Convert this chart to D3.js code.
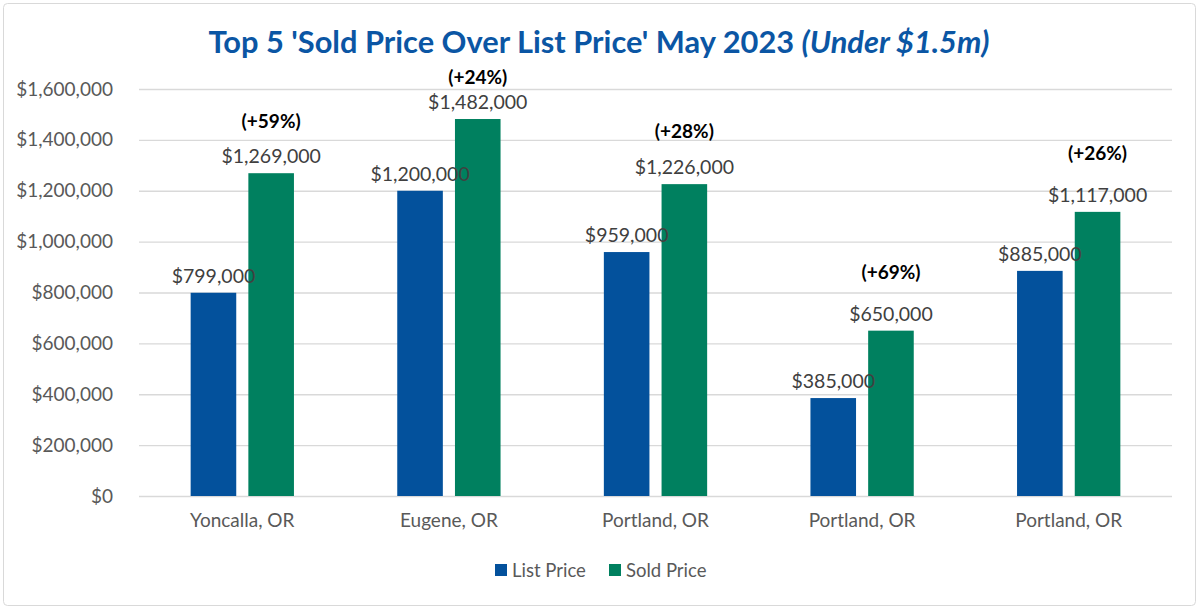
<!DOCTYPE html>
<html>
<head>
<meta charset="utf-8">
<script src="https://cdn.jsdelivr.net/npm/d3@7"></script>
<style>
  body { margin: 0; background: #fff; }
  text { font-family: Lato, "Open Sans", sans-serif; }
</style>
</head>
<body>
<div id="chart-container"></div>
<script>
// data
var categories = ["Yoncalla, OR", "Eugene, OR", "Portland, OR", "Portland, OR", "Portland, OR"];
var listPrice = [799000, 1200000, 959000, 385000, 885000];
var soldPrice = [1269000, 1482000, 1226000, 650000, 1117000];
var pctLabels = ["(+59%)", "(+24%)", "(+28%)", "(+69%)", "(+26%)"];
var yTicks = [0, 200000, 400000, 600000, 800000, 1000000, 1200000, 1400000, 1600000];
var seriesNames = ["List Price", "Sold Price"];

// how far the % boxes sit above the sold bar (they were placed by hand)
var pctLift = [52, 42, 53, 59, 59];

var colors = {"List Price": "#03519c", "Sold Price": "#00805f"};

var w = 1200, h = 611;
var mLeft = 139, mRight = 1172, mTop = 89, mBottom = 496;

var svg = d3.select("#chart-container").append("svg")
    .attr("width", w).attr("height", h);

//outer frame
svg.append("rect")
    .attr("x", 3.5).attr("y", 3.5)
    .attr("width", 1192).attr("height", 602)
    .attr("rx", 4)
    .attr("fill", "#fff")
    .attr("stroke", "#d9d9d9");

//title
var title = svg.append("text")
    .attr("x", 599).attr("y", 53)
    .attr("text-anchor", "middle")
    .attr("fill", "#0b56a4")
    .style("font-size", "30.8px")
    .style("font-weight", "bold");
title.append("tspan").text("Top 5 'Sold Price Over List Price' May 2023 ");
title.append("tspan").style("font-style", "italic").text("(Under $1.5m)");

var idx = d3.range(categories.length);

var yScale = d3.scaleLinear()
    .domain([0, 1600000])
    .range([mBottom, mTop]);

var xScale = d3.scaleBand()
    .domain(idx)
    .range([mLeft, mRight])
    .paddingInner(0.5)
    .paddingOuter(0.25);

var xSub = d3.scaleBand()
    .domain(seriesNames)
    .range([0, xScale.bandwidth()])
    .paddingInner(0.21);

var fmt = function(v){ return "$" + d3.format(",")(v); };

//gridlines + y labels
var yAxis = d3.axisLeft(yScale)
    .tickValues(yTicks)
    .tickSize(-(mRight - mLeft))
    .tickPadding(26)
    .tickFormat(fmt);

var gy = svg.append("g")
    .attr("transform", "translate(" + mLeft + ",0)")
    .call(yAxis);
gy.select(".domain").remove();
gy.selectAll("line").attr("stroke", "#d9d9d9").attr("stroke-width", 1.3);
gy.selectAll("text")
    .attr("fill", "#595959")
    .style("font-size", "19px");

//x labels
var xAxis = d3.axisBottom(xScale)
    .tickSize(0)
    .tickPadding(18)
    .tickFormat(function(i){ return categories[i]; });
var gx = svg.append("g")
    .attr("transform", "translate(0," + mBottom + ")")
    .call(xAxis);
gx.select(".domain").remove();
gx.selectAll("text")
    .attr("fill", "#595959")
    .style("font-size", "19px");

var rows = idx.map(function(i){
    return {i: i, values: [
        {name: "List Price", v: listPrice[i]},
        {name: "Sold Price", v: soldPrice[i]}
    ]};
});

var groups = svg.selectAll(".grp")
    .data(rows)
    .enter().append("g")
    .attr("class", "grp")
    .attr("transform", function(d){ return "translate(" + xScale(d.i) + ",0)"; });

groups.selectAll("rect")
    .data(function(d){ return d.values; })
    .enter().append("rect")
    .attr("x", function(d){ return xSub(d.name); })
    .attr("y", function(d){ return yScale(d.v); })
    .attr("width", xSub.bandwidth())
    .attr("height", function(d){ return yScale(0) - yScale(d.v); })
    .attr("fill", function(d){ return colors[d.name]; });

groups.selectAll(".val")
    .data(function(d){ return d.values; })
    .enter().append("text")
    .attr("class", "val")
    .attr("x", function(d){ return xSub(d.name) + xSub.bandwidth() / 2; })
    .attr("y", function(d){ return yScale(d.v) - 10; })
    .attr("text-anchor", "middle")
    .attr("fill", "#404040")
    .style("font-size", "19.5px")
    .text(function(d){ return fmt(d.v); });

groups.append("text")
    .attr("x", xSub("Sold Price") + xSub.bandwidth() / 2)
    .attr("y", function(d){ return yScale(soldPrice[d.i]) - pctLift[d.i] + 7; })
    .attr("text-anchor", "middle")
    .attr("fill", "#000")
    .style("font-size", "19px")
    .style("font-weight", "bold")
    .text(function(d){ return pctLabels[d.i]; });

//legend
var legend = svg.append("g").attr("transform", "translate(0,570)");
var legX = [495, 609];
seriesNames.forEach(function(s, k){
    legend.append("rect")
        .attr("x", legX[k]).attr("y", -6)
        .attr("width", 12).attr("height", 12)
        .attr("fill", colors[s]);
    legend.append("text")
        .attr("x", legX[k] + 17).attr("y", 7)
        .attr("fill", "#595959")
        .style("font-size", "18.5px")
        .text(s);
});
</script>
</body>
</html>
